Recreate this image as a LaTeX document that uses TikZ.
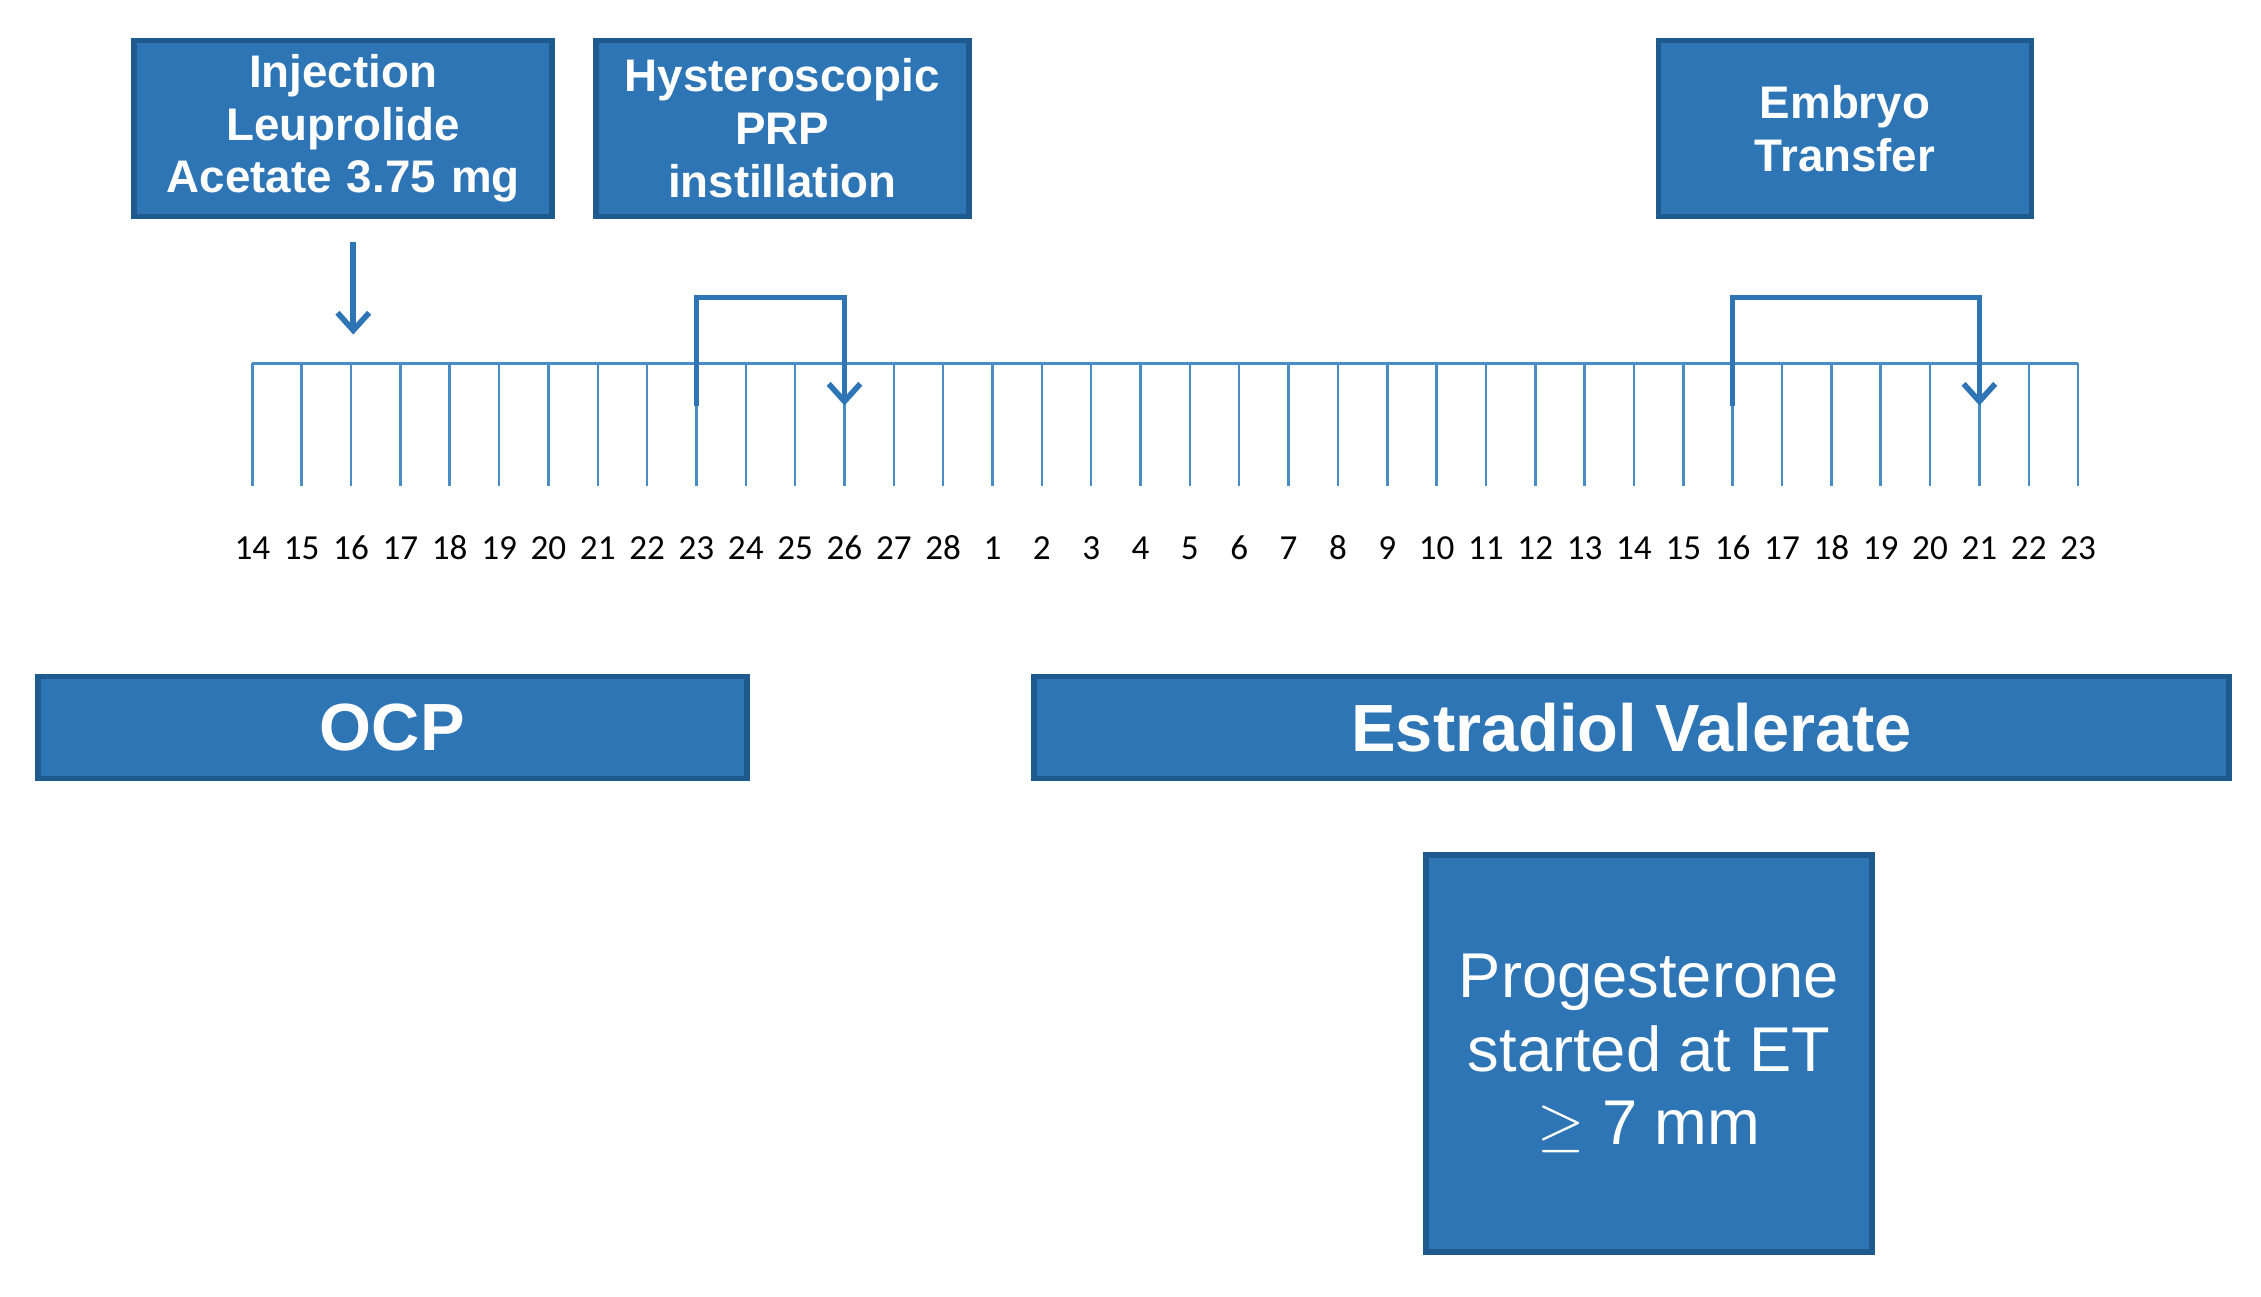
\documentclass[tikz,border=0pt]{standalone}
\usepackage{fontspec}
\setmainfont{Liberation Sans}
\newfontfamily\numfont{Carlito}
\usetikzlibrary{arrows.meta}
\definecolor{boxblue}{HTML}{2E75B6}
\definecolor{edgeblue}{HTML}{1F5A8E}
\definecolor{tickblue}{HTML}{4A8CC6}
\tikzset{
  blue box/.style={draw=edgeblue,line width=1.6pt,fill=boxblue,text=white,font=\bfseries\fontsize{13}{15}\selectfont,align=center,inner sep=0pt},
  tick/.style={draw=tickblue,line width=0.7pt},
  down arrow/.style={draw=boxblue,line width=1.6pt,-{Straight Barb[length=5pt,width=9pt]}}
}
\begin{document}
\begin{tikzpicture}[x=0.01442cm,y=-0.01442cm]
   \useasboundingbox (0,0) rectangle (1568,899);
   \node[blue box,minimum width=290\pgflinewidth,text width=4cm] at (238,89) [minimum width=4.18cm,minimum height=1.76cm] (inj) {Injection\\Leuprolide\\Acetate 3.75 mg};
   \node[blue box,minimum width=3.73cm,minimum height=1.76cm] at (542.5,89) (prp) {Hysteroscopic\\PRP\\instillation};
   \node[blue box,minimum width=3.73cm,minimum height=1.76cm] at (1279.5,89) (emb) {Embryo\\Transfer};
   \node[blue box,minimum width=7.09cm,minimum height=1.02cm,font=\bfseries\fontsize{19}{22}\selectfont] at (272,504.5) (ocp) {OCP};
   \node[blue box,minimum width=11.95cm,minimum height=1.02cm,font=\bfseries\fontsize{19}{22}\selectfont] at (1131.5,504.5) (est) {Estradiol Valerate};
   \node[blue box,minimum width=4.46cm,minimum height=3.97cm,font=\fontsize{18}{21}\selectfont] at (1143.5,730.5) (prog) {Progesterone\\started at ET\\$\geq$ 7 mm};
   % timeline
   \coordinate (left) at (175,252);
   \coordinate (right) at (1441,252);
   \draw[tick] (left) -- (right);
   \foreach \d [count=\i from 0] in {14,15,...,28,1,2,...,23} {
      \coordinate (t\i) at (175+34.22*\i,252);
      \draw[tick] (t\i) -- ++(0,85);
      \node[font=\numfont\fontsize{10}{12}\selectfont] at (175+34.22*\i,380) (l\i) {\d};
   }
   % arrows
   \coordinate (a1) at (245,168);
   \draw[down arrow] (a1) -- ++(0,64);
   \coordinate (b1) at ([yshift=-12]t9);
   \coordinate (b2) at ([yshift=-12]t12);
   \draw[down arrow] (b1) -- ++(0,-75) -| (b2);
   \coordinate (c1) at ([yshift=-12]t30);
   \coordinate (c2) at ([yshift=-12]t35);
   \draw[down arrow] (c1) -- ++(0,-75) -| (c2);
   \draw[draw=boxblue,line width=1.6pt,-] ([yshift=-12]t30) -- ++(0,-75);
   \draw[draw=boxblue,line width=1.6pt,-] ([yshift=-12]t9) -- ++(0,-75);
\end{tikzpicture}
\end{document}
